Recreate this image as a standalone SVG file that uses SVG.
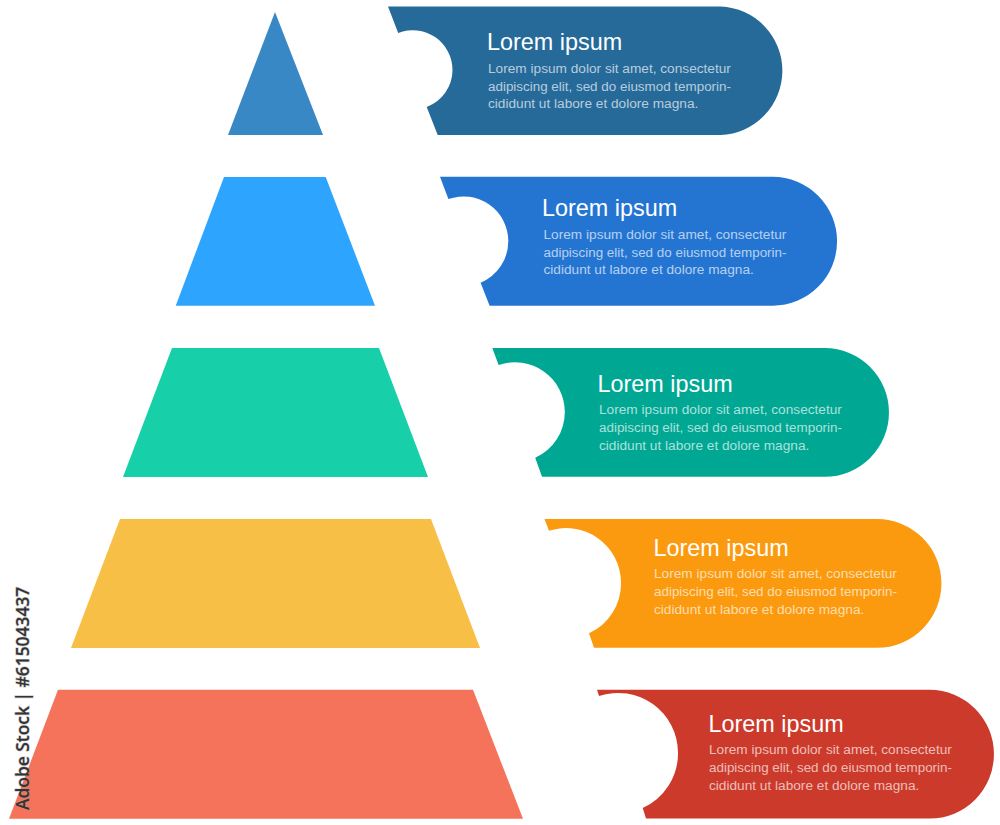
<svg xmlns="http://www.w3.org/2000/svg" width="1000" height="825" viewBox="0 0 1000 825">
<style>
text{font-family:"Liberation Sans",Arial,sans-serif;fill:#fff}
.t{font-size:23.4px}
.b{font-size:13.66px;fill-opacity:.68}
.mark{font-family:"Open Sans","Noto Sans",sans-serif;font-size:17.4px;font-weight:600;fill:#333;stroke:#999;stroke-opacity:.45;stroke-width:1.4px;paint-order:stroke}
</style>
<rect width="1000" height="825" fill="#fff"/>
<g id="pyramid-1"><polygon points="275,12 323,135 228,135" fill="#3888c6"/></g>
<g id="pyramid-2"><polygon points="224,177 325.7,177 375,305.7 175.7,305.7" fill="#2da4fe"/></g>
<g id="pyramid-3"><polygon points="172,348 379,348 428,477 123,477" fill="#17cfa9"/></g>
<g id="pyramid-4"><polygon points="120,519 431,519 480,648 71,648" fill="#f7bf46"/></g>
<g id="pyramid-5"><polygon points="58,689.8 473,689.8 523,818.8 9,818.8" fill="#f4735a"/></g>
<g id="band-1">
<path d="M388,6.5H720.6A64.3,64.3 0 0 1 720.6,135H437.7L426.7,107A39.7,39.7 0 0 0 452.5,70A39.7,39.7 0 0 0 398.2,33Z" fill="#266a9a"/>
<text class="t" x="487" y="49.5">Lorem ipsum</text>
<text class="b" x="488" y="72.5">Lorem ipsum dolor sit amet, consectetur</text>
<text class="b" x="488" y="90.5" textLength="243" lengthAdjust="spacingAndGlyphs">adipiscing elit, sed do eiusmod temporin-</text>
<text class="b" x="488" y="108">cididunt ut labore et dolore magna.</text>
</g>
<g id="band-2">
<path d="M440,176.8H772.6A64.4,64.4 0 0 1 772.6,305.7H489.6L480.6,282.7A44.8,44.8 0 0 0 508.3,241A44.8,44.8 0 0 0 448.4,199Z" fill="#2475d2"/>
<text class="t" x="542" y="216">Lorem ipsum</text>
<text class="b" x="543.5" y="239">Lorem ipsum dolor sit amet, consectetur</text>
<text class="b" x="543.5" y="256.5" textLength="243" lengthAdjust="spacingAndGlyphs">adipiscing elit, sed do eiusmod temporin-</text>
<text class="b" x="543.5" y="274">cididunt ut labore et dolore magna.</text>
</g>
<g id="band-3">
<path d="M492.3,348H824.6A64.4,64.4 0 0 1 824.6,476.8H542L535.2,457.7A49.8,49.8 0 0 0 564.8,412A49.8,49.8 0 0 0 498.6,365Z" fill="#00a894"/>
<text class="t" x="597.5" y="392">Lorem ipsum</text>
<text class="b" x="599" y="414">Lorem ipsum dolor sit amet, consectetur</text>
<text class="b" x="599" y="432" textLength="243" lengthAdjust="spacingAndGlyphs">adipiscing elit, sed do eiusmod temporin-</text>
<text class="b" x="599" y="450">cididunt ut labore et dolore magna.</text>
</g>
<g id="band-4">
<path d="M544.5,519H877A64.4,64.4 0 0 1 877,647.8H594L589,633.3A55,55 0 0 0 621,582A55,55 0 0 0 549,530.7Z" fill="#fb9a0e"/>
<text class="t" x="653.5" y="556">Lorem ipsum</text>
<text class="b" x="654" y="578">Lorem ipsum dolor sit amet, consectetur</text>
<text class="b" x="654" y="596" textLength="243" lengthAdjust="spacingAndGlyphs">adipiscing elit, sed do eiusmod temporin-</text>
<text class="b" x="654" y="614">cididunt ut labore et dolore magna.</text>
</g>
<g id="band-5">
<path d="M597,689.8H929.6A64.4,64.4 0 0 1 929.6,818.6H646L642.7,808A60,60 0 0 0 678,752.5A60,60 0 0 0 599,696Z" fill="#cc3a2b"/>
<text class="t" x="708.5" y="732">Lorem ipsum</text>
<text class="b" x="709" y="754">Lorem ipsum dolor sit amet, consectetur</text>
<text class="b" x="709" y="772" textLength="243" lengthAdjust="spacingAndGlyphs">adipiscing elit, sed do eiusmod temporin-</text>
<text class="b" x="709" y="790">cididunt ut labore et dolore magna.</text>
</g>
<g id="connectors"/>
<text class="mark" transform="translate(29,810) rotate(-90)">Adobe Stock | #615043437</text>
</svg>
